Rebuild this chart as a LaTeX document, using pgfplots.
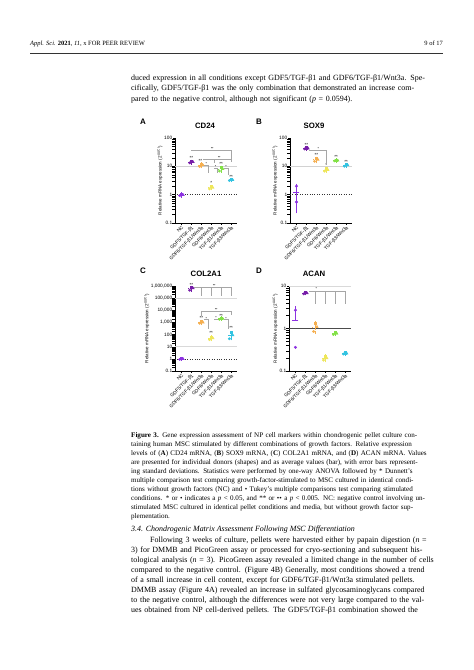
\documentclass[border=0pt]{standalone}
\usepackage{fontspec}
\setmainfont{Liberation Serif}
\newfontfamily\arial{Liberation Sans}
\usepackage{pgfplots}
\pgfplotsset{compat=1.18}

\definecolor{cNC}{RGB}{140,50,225}
\definecolor{cG5}{RGB}{118,28,168}
\definecolor{cG6T}{RGB}{245,175,80}
\definecolor{cG6W}{RGB}{238,230,90}
\definecolor{cT1}{RGB}{130,225,70}
\definecolor{cT3}{RGB}{50,195,225}

\tikzset{
  st/.style={font=\arial\fontsize{4.5}{4.5}\selectfont, inner sep=0pt, black},
  dt/.style={font=\arial\fontsize{4}{4}\selectfont, inner sep=0pt, black!70},
  br/.style={gray!70, line width=0.4bp},
  plab/.style={font=\arial\bfseries\fontsize{8}{8}\selectfont, inner sep=0pt},
  ptit/.style={font=\arial\bfseries\fontsize{7.8}{8}\selectfont, inner sep=0pt},
  txt/.style={inner sep=0pt, text width=312bp, anchor=base west},
}

\pgfplotsset{
  /pgfplots/panel/.style={
    scale only axis, width=62bp, height=85bp,
    xmin=-0.65, xmax=5.6, clip=false,
    axis x line*=bottom, axis y line*=left,
    axis line style={line width=0.5bp, black},
    tick align=outside, major tick length=1.6bp,
    tick style={line width=0.4bp, black},
    xtick={0,1,2,3,4,5},
    xticklabels={NC,GDF5/TGF-β1,GDF6/TGF-β1/Wnt3a,GDF6/Wnt3a,TGF-β1/Wnt3a,TGF-β3/Wnt3a},
    xticklabel style={rotate=45, anchor=north east, inner sep=0.6bp,
      font=\arial\fontsize{4.8}{5}\selectfont},
    yticklabel style={inner sep=1bp, font=\arial\fontsize{4.8}{5}\selectfont},
    ylabel={Relative mRNA expression (2\textsuperscript{-ΔΔCt})},
    ylabel style={inner sep=0.5bp, font=\arial\fontsize{4.5}{5}\selectfont},
  },
}

% horizontal reference line
\newcommand{\refline}[2]{\addplot[#2, line width=0.45bp, forget plot] coordinates {(-0.65,#1) (5.6,#1)};}
% mean bar with SD: colour, x, mean, sd, direction
\newcommand{\msd}[5]{%
  \addplot+[only marks, color=#1, mark=-, mark size=3bp, mark options={line width=0.6bp},
    error bars/y dir=#5, error bars/y explicit,
    error bars/error bar style={line width=0.45bp, #1},
    error bars/error mark options={line width=0.45bp, mark size=1.6bp, #1}]
    coordinates {(#2,#3) +- (0,#4)};}
% one group: colour, x, three donors, mean, sd
\newcommand{\grp}[7]{%
  \addplot[only marks, color=#1, mark=*, mark size=1.2bp, mark options={xshift=-1.7bp}] coordinates {(#2,#3)};
  \addplot[only marks, color=#1, mark=square*, mark size=1.05bp] coordinates {(#2,#4)};
  \addplot[only marks, color=#1, mark=triangle*, mark size=1.4bp, mark options={xshift=1.7bp}] coordinates {(#2,#5)};
  \msd{#1}{#2}{#6}{#7}{both}}

\begin{document}
\begin{tikzpicture}[x=1bp,y=1bp]
\path[fill=white] (0,0) rectangle (474,670);

% page header
\node[anchor=base west, inner sep=0, font=\fontsize{6.5}{8}\selectfont] at (30,624)
  {\textit{Appl. Sci.} \textbf{2021}, \textit{11}, x FOR PEER REVIEW};
\node[anchor=base east, inner sep=0, font=\fontsize{6.5}{8}\selectfont] at (443,624) {9 of 17};
\draw[line width=0.5bp, black!80] (30,617) -- (443,617);

\node[txt, font=\fontsize{8}{10.3}\selectfont] at (131,589.5) {\hyphenpenalty=10000 \exhyphenpenalty=10000 \tolerance=9999
duced expression in all conditions except GDF5/TGF-β1 and GDF6/TGF-β1/Wnt3a. Spe-\linebreak
cifically, GDF5/TGF-β1 was the only combination that demonstrated an increase com-\linebreak
pared to the negative control, although not significant (\textit{p} = 0.0594).};

% ---------- A: CD24
\node[plab] at (143,548.5) {A};
\node[ptit] at (205,544.5) {CD24};
\begin{axis}[panel, ymode=log, at={(175bp,447bp)}, anchor=south west,
  ymin=0.1, ymax=100, ytick={0.1,1,10,100}, yticklabels={0.1,1,10,100}]
\refline{1}{dotted, black!80}
\refline{10}{gray!35}
\grp{cNC}{0}{0.92}{1.06}{0.98}{0.98}{0.08}
\grp{cG5}{1}{13.2}{15.2}{14.2}{14.2}{1.0}
\grp{cG6T}{2}{9.8}{12.3}{11}{11}{1.2}
\grp{cG6W}{3}{1.6}{1.95}{1.75}{1.77}{0.17}
\grp{cT1}{4}{6.8}{9.2}{8}{8}{1.2}
\grp{cT3}{5}{3.15}{3.45}{3.3}{3.3}{0.15}
\node[st] at (axis cs:1,19.5) {**};
\node[st] at (axis cs:1.9,15.5) {**};
\node[st] at (axis cs:3,2.5) {*};
\node[st] at (axis cs:4,11.8) {**};
\node[st] at (axis cs:5,4.3) {**};
\draw[br] (axis cs:1,36) -- (axis cs:5,36) -- (axis cs:5,17);
\node[dt] at (axis cs:3.1,42) {••};
\draw[br] (axis cs:2.2,18) -- (axis cs:5,18) -- (axis cs:5,14);
\draw[br] (axis cs:3.3,18) -- (axis cs:3.3,13);
\node[dt] at (axis cs:3.8,21) {••};
\draw[br] (axis cs:2.3,11) -- (axis cs:2.7,11) -- (axis cs:2.7,6);
\node[dt] at (axis cs:2.5,12.8) {•};
\draw[br] (axis cs:3.3,8.5) -- (axis cs:3.6,8.5) -- (axis cs:3.6,6);
\node[dt] at (axis cs:3.45,9.8) {•};
\draw[br] (axis cs:4.3,8.5) -- (axis cs:4.7,8.5) -- (axis cs:4.7,5);
\node[dt] at (axis cs:4.5,9.8) {•};
\end{axis}

% ---------- B: SOX9
\node[plab] at (259,548.5) {B};
\node[ptit] at (314,544.5) {SOX9};
\begin{axis}[panel, ymode=log, at={(290bp,447bp)}, anchor=south west,
  ymin=0.1, ymax=100, ytick={0.1,1,10,100}, yticklabels={0.1,1,10,100}]
\refline{1}{dotted, black!80}
\refline{10}{gray!35}
\addplot[only marks, color=cNC, mark=*, mark size=1.3bp] coordinates {(0,2.0) (0,0.55)};
\msd{cNC}{0}{1.2}{0.95}{both}
\grp{cG5}{1}{41}{45.5}{43}{43}{2.5}
\grp{cG6T}{2}{15}{19.5}{17}{17}{2.4}
\grp{cG6W}{3}{6.8}{8.3}{7.5}{7.5}{0.8}
\grp{cT1}{4}{15.5}{16.5}{16}{16}{0.6}
\grp{cT3}{5}{10.1}{11.6}{11}{10.9}{0.8}
\node[st] at (axis cs:1,58) {**};
\node[st] at (axis cs:2,25) {**};
\node[st] at (axis cs:3,11.3) {*};
\node[st] at (axis cs:4,21.5) {**};
\node[st] at (axis cs:5,14.5) {**};
\draw[br] (axis cs:1.3,38) -- (axis cs:3,38) -- (axis cs:3,11);
\node[dt] at (axis cs:2.2,44) {•};
\end{axis}

% ---------- C: COL2A1
\node[plab] at (143,399) {C};
\node[ptit] at (206,396) {COL2A1};
\begin{axis}[panel, ymode=log, at={(175bp,299bp)}, anchor=south west,
  ymin=0.1, ymax=1000000,
  ytick={0.1,1,10,100,1000,10000,100000,1000000},
  yticklabels={0.1,1,10,100,{1,000},{10,000},{100,000},{1,000,000}}]
\refline{1}{dotted, black!80}
\refline{10}{gray!30}
\refline{100000}{gray!30}
\grp{cNC}{0}{0.92}{1.05}{0.98}{0.98}{0.07}
\grp{cG5}{1}{450000}{800000}{650000}{630000}{170000}
\grp{cG6T}{2}{850}{1200}{1000}{1010}{170}
\grp{cG6W}{3}{38}{65}{50}{51}{13}
\grp{cT1}{4}{1800}{2300}{2000}{2030}{250}
\grp{cT3}{5}{45}{150}{90}{95}{50}
\node[st] at (axis cs:1,1250000) {**};
\node[st] at (axis cs:2,2300) {**};
\node[st] at (axis cs:3,140) {**};
\node[st] at (axis cs:4,3700) {**};
\node[st] at (axis cs:5,330) {**};
\draw[br] (axis cs:1.3,750000) -- (axis cs:5,750000) -- (axis cs:5,150000);
\draw[br] (axis cs:2,750000) -- (axis cs:2,150000);
\draw[br] (axis cs:3,750000) -- (axis cs:3,150000);
\draw[br] (axis cs:4,750000) -- (axis cs:4,150000);
\node[dt] at (axis cs:3.3,1000000) {••};
\draw[br] (axis cs:2,9000) -- (axis cs:5,9000) -- (axis cs:5,4000);
\draw[br] (axis cs:2,9000) -- (axis cs:2,3500);
\node[dt] at (axis cs:3.5,12000) {••};
\draw[br] (axis cs:2.3,1700) -- (axis cs:2.7,1700) -- (axis cs:2.7,300);
\node[dt] at (axis cs:2.5,2200) {•};
\draw[br] (axis cs:3.3,1900) -- (axis cs:3.7,1900) -- (axis cs:3.7,1500);
\node[dt] at (axis cs:3.5,2500) {•};
\draw[br] (axis cs:4.3,1700) -- (axis cs:4.7,1700) -- (axis cs:4.7,300);
\node[dt] at (axis cs:4.5,2200) {•};
\end{axis}

% ---------- D: ACAN
\node[plab] at (259,399) {D};
\node[ptit] at (314,396) {ACAN};
\begin{axis}[panel, ymode=log, at={(289bp,299bp)}, anchor=south west,
  ymin=0.1, ymax=10, ytick={0.1,1,10}, yticklabels={0.1,1,10}]
\refline{1}{black!70}
\refline{10}{gray!30}
\addplot[only marks, color=cNC, mark=*, mark size=1.3bp] coordinates {(0,2.7) (0,0.36)};
\msd{cNC}{0}{1.55}{1.55}{plus}
\grp{cG5}{1}{6.5}{7.1}{6.8}{6.8}{0.25}
\grp{cG6T}{2}{0.85}{1.35}{1.1}{1.08}{0.28}
\grp{cG6W}{3}{0.18}{0.22}{0.2}{0.2}{0.025}
\grp{cT1}{4}{0.72}{0.8}{0.76}{0.76}{0.04}
\grp{cT3}{5}{0.25}{0.27}{0.26}{0.26}{0.01}
\draw[br] (axis cs:1.4,7.6) -- (axis cs:5,7.6) -- (axis cs:5,3.7);
\draw[br] (axis cs:2,7.6) -- (axis cs:2,3.7);
\draw[br] (axis cs:3,7.6) -- (axis cs:3,3.7);
\draw[br] (axis cs:4,7.6) -- (axis cs:4,3.7);
\node[dt] at (axis cs:2.1,8.6) {•};
\end{axis}

% caption
\node[txt, font=\fontsize{7.1}{9.06}\selectfont] at (131,232.8) {\hyphenpenalty=10000 \exhyphenpenalty=10000 \tolerance=9999
\textbf{Figure 3.} Gene expression assessment of NP cell markers within chondrogenic pellet culture con-\linebreak
taining human MSC stimulated by different combinations of growth factors. Relative expression\linebreak
levels of (\textbf{A}) CD24 mRNA, (\textbf{B}) SOX9 mRNA, (\textbf{C}) COL2A1 mRNA, and (\textbf{D}) ACAN mRNA. Values\linebreak
are presented for individual donors (shapes) and as average values (bar), with error bars represent-\linebreak
ing standard deviations. Statistics were performed by one-way ANOVA followed by * Dunnett's\linebreak
multiple comparison test comparing growth-factor-stimulated to MSC cultured in identical condi-\linebreak
tions without growth factors (NC) and • Tukey's multiple comparisons test comparing stimulated\linebreak
conditions. * or • indicates a \textit{p} < 0.05, and ** or •• a \textit{p} < 0.005. NC: negative control involving un-\linebreak
stimulated MSC cultured in identical pellet conditions and media, but without growth factor sup-\linebreak
plementation.};

% section heading and paragraph
\node[anchor=base west, inner sep=0, font=\itshape\fontsize{8}{10}\selectfont] at (131,138.5)
  {3.4. Chondrogenic Matrix Assessment Following MSC Differentiation};
\node[txt, font=\fontsize{8}{10}\selectfont] at (131,127.5) {\hyphenpenalty=10000 \exhyphenpenalty=10000 \tolerance=9999 \parfillskip=0pt
\hspace*{19bp}Following 3 weeks of culture, pellets were harvested either by papain digestion (\textit{n} =\linebreak
3) for DMMB and PicoGreen assay or processed for cryo-sectioning and subsequent his-\linebreak
tological analysis (\textit{n} = 3). PicoGreen assay revealed a limited change in the number of cells\linebreak
compared to the negative control. (Figure 4B) Generally, most conditions showed a trend\linebreak
of a small increase in cell content, except for GDF6/TGF-β1/Wnt3a stimulated pellets.\linebreak
DMMB assay (Figure 4A) revealed an increase in sulfated glycosaminoglycans compared\linebreak
to the negative control, although the differences were not very large compared to the val-\linebreak
ues obtained from NP cell-derived pellets. The GDF5/TGF-β1 combination showed the};
\end{tikzpicture}
\end{document}
